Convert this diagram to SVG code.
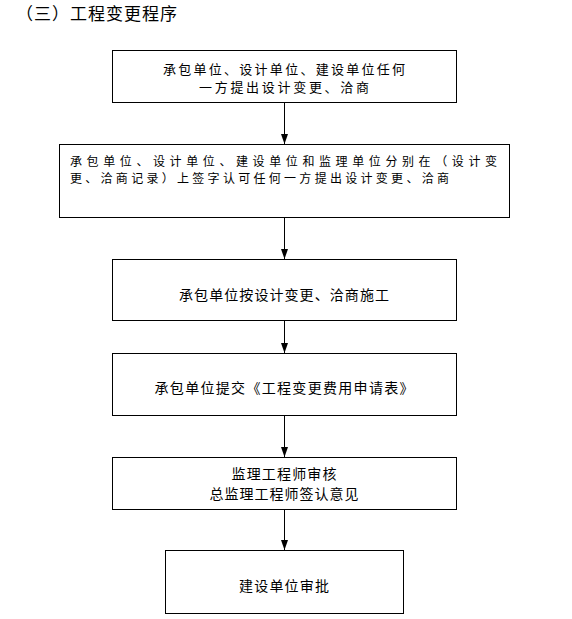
<svg xmlns="http://www.w3.org/2000/svg" width="572" height="619" viewBox="0 0 572 619">
<defs>
<style>
.box{fill:#fff;stroke:#000;stroke-width:1}
.t{font-family:"Noto Sans CJK SC","Noto Sans",sans-serif;font-size:14px;fill:#000}
.s{font-size:13px}
.xs{font-size:12px}
.c{text-anchor:middle}
.conn{stroke:#000;stroke-width:1;fill:none}
</style>
<marker id="ah" viewBox="0 0 10 7" refX="10" refY="3.5" markerWidth="10" markerHeight="7" markerUnits="userSpaceOnUse" orient="auto">
<path d="M0,0 L10,3.5 L0,7 Z" fill="#000"/>
</marker>
</defs>
<rect width="572" height="619" fill="#fff"/>
<text id="title" class="t" x="16" y="19.5" style="font-size:17px" textLength="161" lengthAdjust="spacing">（三）工程变更程序</text>
<g id="n1">
<rect class="box" x="112.5" y="50.5" width="344" height="52"/>
<text class="t s c" x="284" y="74" textLength="242" lengthAdjust="spacing">承包单位、设计单位、建设单位任何</text>
<text class="t s c" x="284" y="91.5" textLength="170" lengthAdjust="spacing">一方提出设计变更、洽商</text>
</g>
<g id="n2">
<rect class="box" x="59.5" y="144.5" width="450" height="73"/>
<text class="t xs" x="70" y="165.5" textLength="427" lengthAdjust="spacing">承包单位、设计单位、建设单位和监理单位分别在（设计变</text>
<text class="t xs" x="70" y="183" textLength="379" lengthAdjust="spacing">更、洽商记录）上签字认可任何一方提出设计变更、洽商</text>
</g>
<g id="n3">
<rect class="box" x="112.5" y="259.5" width="344" height="61"/>
<text class="t c" x="284" y="299.5" textLength="210" lengthAdjust="spacing">承包单位按设计变更、洽商施工</text>
</g>
<g id="n4">
<rect class="box" x="112.5" y="353.5" width="344" height="62"/>
<text class="t c" x="284" y="393" textLength="259" lengthAdjust="spacing">承包单位提交《工程变更费用申请表》</text>
</g>
<g id="n5">
<rect class="box" x="112.5" y="457.5" width="344" height="52"/>
<text class="t c" x="284" y="479" textLength="105" lengthAdjust="spacing">监理工程师审核</text>
<text class="t c" x="284" y="499" textLength="149" lengthAdjust="spacing">总监理工程师签认意见</text>
</g>
<g id="n6">
<rect class="box" x="165.5" y="550.5" width="238" height="63"/>
<text class="t c" x="284" y="590.5" textLength="90" lengthAdjust="spacing">建设单位审批</text>
</g>
<g id="connectors">
<line class="conn" x1="284.5" y1="102.5" x2="284.5" y2="144" marker-end="url(#ah)"/>
<line class="conn" x1="284.5" y1="217.5" x2="284.5" y2="259" marker-end="url(#ah)"/>
<line class="conn" x1="284.5" y1="320.5" x2="284.5" y2="353" marker-end="url(#ah)"/>
<line class="conn" x1="284.5" y1="415.5" x2="284.5" y2="457" marker-end="url(#ah)"/>
<line class="conn" x1="284.5" y1="509.5" x2="284.5" y2="550" marker-end="url(#ah)"/>
</g>
</svg>
